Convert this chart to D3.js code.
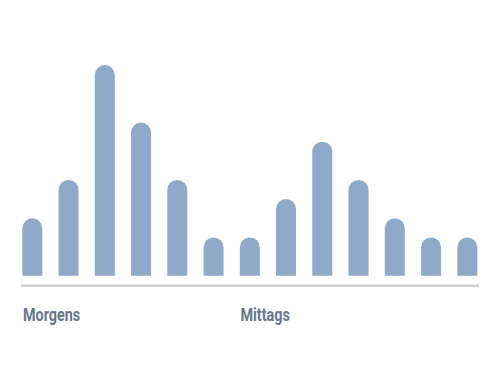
<!DOCTYPE html>
<html>
<head>
<meta charset="utf-8">
<script src="https://cdn.jsdelivr.net/npm/d3@7"></script>
<style>
  body { margin: 0; background: #fff; }
  text { font-family: Roboto, sans-serif; font-weight: 700; }
</style>
</head>
<body>
<div id="chart"></div>
<script>
var slots = ["1", "2", "3", "4", "5", "6", "7", "8", "9", "10", "11", "12", "13"];
var values = [3, 5, 11, 8, 5, 2, 2, 4, 7, 5, 3, 2, 2];
var labels = [{ slot: "1", text: "Morgens" }, { slot: "7", text: "Mittags" }];

var width = 500, height = 367;

var svg = d3.select("#chart")
    .append("svg")
    .attr("width", width)
    .attr("height", height);

var x = d3.scaleBand()
    .domain(slots)
    .range([22.3, 477.3])
    .paddingInner(0.448)
    .paddingOuter(0);

var y = d3.scaleLinear()
    .domain([0, 11])
    .range([275.7, 65]);

var bw = x.bandwidth(), r = bw / 2;

// bars with a round top
svg.selectAll(".bar")
    .data(values)
    .enter()
    .append("path")
    .attr("class", "bar")
    .attr("fill", "#8eaac8")
    .attr("d", function(d, i) {
        var x0 = x(slots[i]), y0 = y(0), y1 = y(d);
        return "M" + x0 + "," + y0 +
            "V" + (y1 + r) +
            "A" + r + "," + r + " 0 0 1 " + (x0 + bw) + "," + (y1 + r) +
            "V" + y0 + "Z";
    });

// baseline
svg.append("line")
    .attr("x1", 21)
    .attr("x2", 479)
    .attr("y1", 285.7)
    .attr("y2", 285.7)
    .attr("stroke", "#cfcfd2")
    .attr("stroke-width", 2.5);

// condensed look: squeeze the labels sideways
svg.selectAll(".label")
    .data(labels)
    .enter()
    .append("text")
    .attr("class", "label")
    .attr("transform", function(d) { return "translate(" + (x(d.slot) + 0.7) + ",321) scale(0.82,1)"; })
    .attr("fill", "#66768c")
    .attr("font-size", 17.5)
    .text(function(d) { return d.text; });
</script>
</body>
</html>
